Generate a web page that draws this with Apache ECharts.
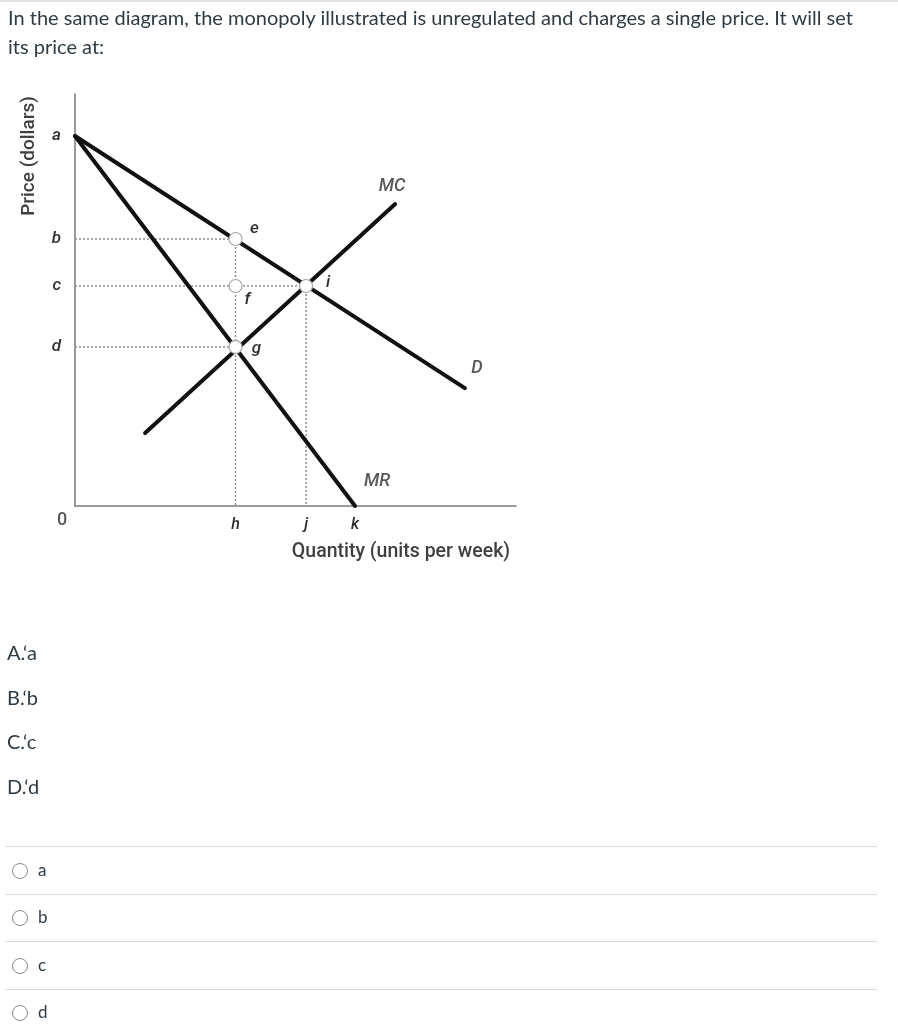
<!DOCTYPE html>
<html><head><meta charset="utf-8">
<script src="https://cdn.jsdelivr.net/npm/echarts@6/dist/echarts.min.js"></script>
<style>
html,body{margin:0;padding:0;background:#fff;width:898px;height:1024px;overflow:hidden;}
#chart{position:absolute;left:0;top:0;width:898px;height:1024px;}
#topline{position:absolute;left:0;top:0;width:898px;height:2px;background:#e2e2e2;}
.txt{position:absolute;font-family:Lato,sans-serif;color:#2d3b45;white-space:nowrap;}
#q{left:8px;top:3px;font-size:20px;line-height:29px;}
.opt{left:7px;font-size:20px;line-height:24px;}
.sep{position:absolute;left:5px;width:872px;height:1px;background:#dadada;}
.radio{position:absolute;left:12px;width:14px;height:14px;border:1px solid #8a8a8a;border-radius:50%;background:#fff;}
.rl{position:absolute;left:38px;font-family:Lato,sans-serif;font-size:17px;line-height:20px;color:#2d3b45;}
</style></head>
<body>
<div id="chart"></div>
<div id="topline"></div>
<div id="q" class="txt">In the same diagram, the monopoly illustrated is unregulated and charges a single price. It will set<br>its price at:</div>
<div id="opts"></div>
<script>
// ---- data ----
const priceLabels = ['a', 'b', 'c', 'd'];
const priceValues = [89.8, 64.8, 53.4, 38.6];
const qtyLabels = ['h', 'j', 'k'];
const qtyValues = [36.4, 52.4, 63.5];
const demandLine = [[0, 89.8], [88.4, 28.6]];
const mrLine = [[0, 89.8], [63.5, 0]];
const mcLine = [[15.9, 17.7], [72.6, 73.3]];
const pointNames = ['e', 'f', 'g', 'i'];
const pointQty = [36.4, 36.4, 36.4, 52.4];
const pointPrice = [64.8, 53.4, 38.6, 53.4];
const curveNames = ['D', 'MR', 'MC'];
const choiceKeys = ['A', 'B', 'C', 'D'];
const choiceTexts = ['a', 'b', 'c', 'd'];
const xTitle = 'Quantity (units per week)';
const yTitle = 'Price (dollars)';

// ---- html text (question options) ----
const optsEl = document.getElementById('opts');
const optTops = [640, 685, 729, 774];
choiceKeys.forEach((k, i) => {
  const d = document.createElement('div');
  d.className = 'txt opt';
  d.style.top = optTops[i] + 'px';
  d.textContent = k + '.\u2018' + choiceTexts[i];
  optsEl.appendChild(d);
});
const sepTops = [846, 894, 941, 989];
sepTops.forEach(t => {
  const s = document.createElement('div');
  s.className = 'sep'; s.style.top = t + 'px'; optsEl.appendChild(s);
});
const radioCenters = [871, 918, 966, 1013];
choiceTexts.forEach((c, i) => {
  const r = document.createElement('div');
  r.className = 'radio'; r.style.top = (radioCenters[i] - 8) + 'px'; optsEl.appendChild(r);
  const l = document.createElement('div');
  l.className = 'rl'; l.style.top = (radioCenters[i] - 11) + 'px'; l.textContent = c; optsEl.appendChild(l);
});

// ---- chart ----
const chart = echarts.init(document.getElementById('chart'), null, {renderer: 'canvas'});
const FONT = 'Roboto, "Liberation Sans", Arial, sans-serif';
const LABEL_COLOR = '#2e2e2e';
const curveStyle = {color: '#111', width: 4, cap: 'round'};
const guideStyle = {color: '#8c8c8c', width: 1.5, type: [2, 2]};

const guides = [
  [[0, priceValues[1]], [pointQty[0], priceValues[1]]],
  [[0, priceValues[2]], [pointQty[3], priceValues[2]]],
  [[0, priceValues[3]], [pointQty[2], priceValues[3]]],
  [[qtyValues[0], pointPrice[0]], [qtyValues[0], 0]],
  [[qtyValues[1], pointPrice[3]], [qtyValues[1], 0]]
];

const pointLabelOffsets = {e: [19, -10], f: [12, 14], g: [21, 2], i: [22, -3]};
const curveLabelOffsets = {D: [12, -20], MR: [22, -25], MC: [-3, -18]};
const curveEnds = [demandLine[1], mrLine[1], mcLine[1]];
const letterStyle = {fontStyle: 'italic', fontWeight: 500, color: LABEL_COLOR, fontFamily: FONT};

const series = [];
guides.forEach(g => series.push({
  type: 'line', data: g, symbol: 'none', lineStyle: guideStyle, z: 1, silent: true
}));
[demandLine, mrLine, mcLine].forEach(d => series.push({
  type: 'line', data: d, symbol: 'none', lineStyle: curveStyle, z: 2, silent: true
}));
series.push({
  type: 'scatter', z: 3, symbol: 'circle', symbolSize: 13, silent: true,
  itemStyle: {color: '#fff', borderColor: '#a8a8a8', borderWidth: 1.2, opacity: 1},
  data: pointNames.map((n, i) => ({
    value: [pointQty[i], pointPrice[i]], name: n,
    label: Object.assign({show: true, formatter: n, position: 'inside', offset: pointLabelOffsets[n],
      fontSize: 17}, letterStyle)
  }))
});
series.push({
  type: 'scatter', z: 4, symbolSize: 0, silent: true,
  data: curveNames.map((n, i) => ({
    value: curveEnds[i], name: n,
    label: Object.assign({show: true, formatter: n, position: 'inside', offset: curveLabelOffsets[n],
      fontSize: 18}, letterStyle)
  }))
});
series.push({
  type: 'scatter', z: 4, symbolSize: 0, silent: true,
  data: [{value: [0, 0], label: {show: true, formatter: '0', position: 'inside', offset: [-13, 14],
    fontSize: 18, fontWeight: 500, color: LABEL_COLOR, fontFamily: FONT}}]
});

chart.setOption({
  animation: false,
  backgroundColor: 'transparent',
  grid: {left: 75, top: 94, width: 441, height: 412, containLabel: false},
  xAxis: {
    type: 'value', min: 0, max: 100,
    axisLine: {show: true, lineStyle: {color: '#7a7a7a', width: 1.5}},
    axisTick: {show: false}, splitLine: {show: false},
    axisLabel: Object.assign({
      customValues: qtyValues,
      formatter: v => qtyLabels[qtyValues.indexOf(v)],
      fontSize: 16, margin: 11
    }, letterStyle)
  },
  yAxis: {
    type: 'value', min: 0, max: 100,
    axisLine: {show: true, lineStyle: {color: '#7a7a7a', width: 1.5}},
    axisTick: {show: false}, splitLine: {show: false},
    axisLabel: Object.assign({
      customValues: priceValues,
      formatter: v => priceLabels[priceValues.indexOf(v)],
      fontSize: 17, margin: 14
    }, letterStyle)
  },
  graphic: [
    {type: 'text', x: 401, y: 552, style: {text: xTitle, font: '500 19.5px ' + FONT, fill: '#3f3f3f',
      textAlign: 'center', textVerticalAlign: 'middle'}},
    {type: 'text', x: 29, y: 156, rotation: Math.PI / 2, style: {text: yTitle, font: '500 19px ' + FONT, fill: '#3f3f3f',
      textAlign: 'center', textVerticalAlign: 'middle'}}
  ],
  series: series
});
</script>
</body></html>
